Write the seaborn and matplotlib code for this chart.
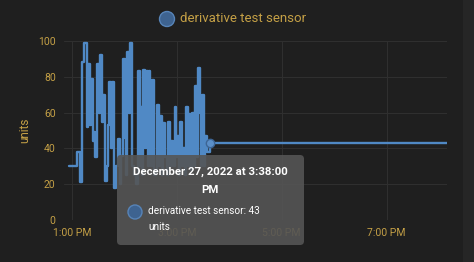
import numpy as np
import pandas as pd
import matplotlib
matplotlib.use("Agg")
import matplotlib.pyplot as plt
import matplotlib.dates as mdates
from matplotlib.patches import FancyBboxPatch, Circle, Rectangle
import seaborn as sns

# Sensor history: minutes after 13:00 on 2022-12-27 and the reading at that moment
minutes = [-3.4, 5.7, 9.2, 11.5, 13.7, 17.2, 18.3, 20.6, 21.8, 24.0, 25.2, 26.3,
           28.6, 30.9, 32.1, 34.4, 35.5, 37.8, 40.1, 41.2, 42.4, 44.7, 45.8, 48.1,
           50.4, 52.7, 55.0, 56.1, 58.4, 60.7, 61.8, 63.0, 65.3, 66.4, 68.7, 71.0,
           73.3, 75.6, 77.9, 79.0, 80.2, 81.3, 83.6, 84.7, 87.0, 88.2, 89.3, 90.5,
           91.6, 93.9, 96.2, 97.3, 99.6, 100.8, 103.1, 104.2, 106.5, 108.8, 109.9,
           112.2, 113.4, 115.6, 117.9, 119.1, 120.2, 122.5, 123.7, 126.0, 127.1,
           129.4, 130.5, 132.8, 134.0, 136.3, 137.4, 139.7, 140.8, 143.1, 144.3,
           146.6, 147.7, 148.9, 151.1, 152.3, 154.6, 158.0, 429.0]
values = [30, 38, 21, 88, 99, 52, 87, 53, 79, 44, 49, 35,
          87, 60, 92, 55, 70, 22, 30, 53, 77, 40, 77, 18,
          30, 45, 20, 36, 90, 46, 25, 94, 60, 99, 30, 25,
          20, 83, 30, 63, 25, 84, 40, 83, 30, 83, 67, 30,
          78, 25, 28, 64, 30, 58, 25, 54, 35, 25, 55,
          30, 44, 30, 63, 35, 47, 25, 55, 30, 40,
          25, 63, 30, 59, 28, 60, 30, 75, 35, 85,
          60, 30, 70, 30, 47, 38, 43, 43]

series_name = "derivative test sensor"
unit = "units"
y_ticks = [0, 20, 40, 60, 80, 100]
hover_minute = 158.0
hover_value = 43
tooltip_title = ["December 27, 2022 at 3:38:00", "PM"]

BG = "#1f1f1f"
GRID = "#2f2f2f"
GOLD = "#c4a046"
LINE = "#5089c5"

start = pd.Timestamp("2022-12-27 13:00")
df = pd.DataFrame({
    "time": start + pd.to_timedelta(minutes, unit="m"),
    "value": values,
})

sns.set_theme(style="dark")
plt.rcParams["font.family"] = ["Roboto", "DejaVu Sans"]

fig = plt.figure(figsize=(4.74, 2.62), dpi=100, facecolor=BG)
W, H = 474, 262
ax = fig.add_axes([64 / W, 1 - 220 / H, (447 - 64) / W, (220 - 41) / H])
ax.set_facecolor(BG)

sns.lineplot(data=df, x="time", y="value", ax=ax, color=LINE, linewidth=1.7,
             drawstyle="steps-post", estimator=None, sort=True)

hover_t = start + pd.Timedelta(minutes=hover_minute)
ax.plot([hover_t], [hover_value], marker="o", markersize=6,
        color="#5b8fc8", markeredgecolor="#3d6594", zorder=5)

ax.set_xlim(start - pd.Timedelta(minutes=9), start + pd.Timedelta(minutes=429))
ax.set_ylim(0, 100)
ax.set_yticks(y_ticks)
ax.xaxis.set_major_locator(mdates.HourLocator(byhour=[13, 15, 17, 19]))
ax.xaxis.set_major_formatter(mdates.DateFormatter("%-I:%M %p"))

ax.grid(True, color=GRID, linewidth=0.8)
for s in ax.spines.values():
    s.set_visible(False)
ax.tick_params(axis="both", colors=GOLD, labelsize=7.5, length=0, pad=6)
ax.set_xlabel("")
ax.set_ylabel(unit, color=GOLD, fontsize=8.5, labelpad=5)

# Overlay in pixel coordinates for the legend and the hover tooltip
ov = fig.add_axes([0, 0, 1, 1], zorder=10)
ov.set_xlim(0, W)
ov.set_ylim(H, 0)
ov.axis("off")
ov.patch.set_alpha(0)

ov.add_patch(Rectangle((463, 0), 11, H, facecolor="#262626", edgecolor="none"))

ov.add_patch(Circle((167, 19), 7.5, facecolor="#3e6390", edgecolor="#5784b8", linewidth=1.0))
ov.text(180, 19, series_name, color=GOLD, fontsize=9.5, va="center", ha="left")

ov.add_patch(FancyBboxPatch((117, 155), 187, 90, boxstyle="round,pad=0,rounding_size=4",
                            facecolor="#555555", edgecolor="none", alpha=0.9))
ov.text(210, 172, tooltip_title[0], color="white", fontsize=8.2, fontweight="bold",
        ha="center", va="center")
ov.text(210, 190, tooltip_title[1], color="white", fontsize=8.2, fontweight="bold",
        ha="center", va="center")
ov.add_patch(Circle((135, 212), 7, facecolor="#3e6390", edgecolor="#5784b8", linewidth=1.0))
ov.text(148, 211, f"{series_name}: {hover_value}", color="white", fontsize=7.2,
        ha="left", va="center")
ov.text(148, 227, unit, color="white", fontsize=7.2, ha="left", va="center")

fig.savefig("out.png", dpi=100, facecolor=BG)
